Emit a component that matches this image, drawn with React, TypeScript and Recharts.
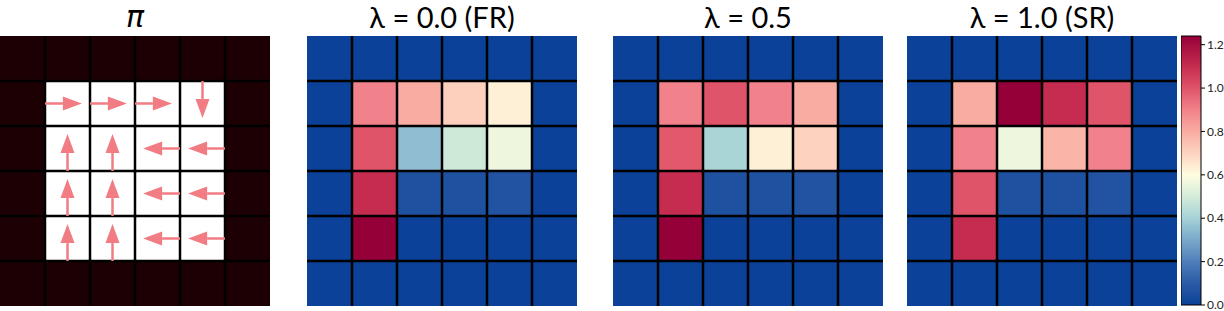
import { ScatterChart, Scatter, XAxis, YAxis, BarChart, Bar } from 'recharts';

// grid world: 6x6, row 0 is the top row
const GRID = 6;
const VMAX = 1.24;
const CB_TICKS = [0, 0.2, 0.4, 0.6, 0.8, 1.0, 1.2];

const TITLES = ['λ = 0.0 (FR)', 'λ = 0.5', 'λ = 1.0 (SR)'];

// 1 = wall, 0 = free cell
const WALLS = [
    [1, 1, 1, 1, 1, 1],
    [1, 0, 0, 0, 0, 1],
    [1, 0, 0, 0, 0, 1],
    [1, 0, 0, 0, 0, 1],
    [1, 0, 0, 0, 0, 1],
    [1, 1, 1, 1, 1, 1],
];

// policy arrows (R/L/U/D), '' = no arrow
const POLICY = [
    ['', '', '', '', '', ''],
    ['', 'R', 'R', 'R', 'D', ''],
    ['', 'U', 'U', 'L', 'L', ''],
    ['', 'U', 'U', 'L', 'L', ''],
    ['', 'U', 'U', 'L', 'L', ''],
    ['', '', '', '', '', ''],
];

const VALUES_FR = [
    [0, 0, 0, 0, 0, 0],
    [0, 0.9, 0.8, 0.71, 0.63, 0],
    [0, 1.0, 0.35, 0.49, 0.56, 0],
    [0, 1.1, 0.06, 0.06, 0.07, 0],
    [0, 1.24, 0, 0, 0, 0],
    [0, 0, 0, 0, 0, 0],
];

const VALUES_MID = [
    [0, 0, 0, 0, 0, 0],
    [0, 0.9, 1.0, 0.9, 0.8, 0],
    [0, 0.99, 0.41, 0.63, 0.7, 0],
    [0, 1.1, 0.06, 0.06, 0.07, 0],
    [0, 1.24, 0, 0, 0, 0],
    [0, 0, 0, 0, 0, 0],
];

const VALUES_SR = [
    [0, 0, 0, 0, 0, 0],
    [0, 0.8, 1.24, 1.1, 1.0, 0],
    [0, 0.9, 0.56, 0.78, 0.9, 0],
    [0, 1.0, 0.06, 0.06, 0.07, 0],
    [0, 1.1, 0, 0, 0, 0],
    [0, 0, 0, 0, 0, 0],
];

// colormap stops [value, color]
const CMAP: [number, string][] = [
    [0.0, '#0b4198'],
    [0.1, '#2a5ba6'],
    [0.2, '#4f7fba'],
    [0.3, '#7aa8cb'],
    [0.4, '#a5d2d6'],
    [0.5, '#d4ecd9'],
    [0.6, '#fffde0'],
    [0.7, '#fdd3c0'],
    [0.8, '#f9aca2'],
    [0.9, '#f1818a'],
    [1.0, '#df5468'],
    [1.1, '#c62c4f'],
    [1.24, '#960038'],
];

const PANEL = 270;
const CELL = PANEL / GRID;
const LINE_W = 2.5;
const FONT = "Lato, 'DejaVu Sans', sans-serif";
const WALL_COLOR = '#1c0003';
const ARROW_COLOR = '#f17c83';

const hex = (c: string) => [1, 3, 5].map(i => parseInt(c.slice(i, i + 2), 16));

function colorFor(v: number) {
    if (v <= CMAP[0][0]) return CMAP[0][1];
    for (let i = 1; i < CMAP.length; i++) {
        const [v1, c1] = CMAP[i];
        if (v <= v1) {
            const [v0, c0] = CMAP[i - 1];
            const t = (v - v0) / (v1 - v0);
            const a = hex(c0), b = hex(c1);
            const m = a.map((x, k) => Math.round(x + (b[k] - x) * t));
            return `rgb(${m[0]},${m[1]},${m[2]})`;
        }
    }
    return CMAP[CMAP.length - 1][1];
}

const toCells = (grid: number[][]) =>
    grid.flatMap((row, r) => row.map((v, c) => ({ x: c + 0.5, y: r + 0.5, v, r, c })));

const arrowCells = POLICY.flatMap((row, r) =>
    row.map((d, c) => ({ x: c + 0.5, y: r + 0.5, d })).filter(p => p.d !== '')
);

const DIRS: Record<string, [number, number]> = { R: [1, 0], L: [-1, 0], U: [0, -1], D: [0, 1] };

const HeatCell = (props: any) => {
    const { cx, cy, payload } = props;
    return <rect x={cx - CELL / 2} y={cy - CELL / 2} width={CELL} height={CELL} fill={colorFor(payload.v)} />;
};

const WallCell = (props: any) => {
    const { cx, cy, payload } = props;
    return <rect x={cx - CELL / 2} y={cy - CELL / 2} width={CELL} height={CELL} fill={payload.v ? WALL_COLOR : '#ffffff'} />;
};

// inner cell borders: each cell draws its left and top edge (not on the outer frame)
const CellEdges = (props: any) => {
    const { cx, cy, payload } = props;
    const x0 = cx - CELL / 2, y0 = cy - CELL / 2;
    const e = LINE_W / 2;
    return (
        <g>
            {payload.c > 0 && <line x1={x0} y1={y0 - e} x2={x0} y2={y0 + CELL + e} stroke="#000" strokeWidth={LINE_W} />}
            {payload.r > 0 && <line x1={x0 - e} y1={y0} x2={x0 + CELL + e} y2={y0} stroke="#000" strokeWidth={LINE_W} />}
        </g>
    );
};

const Arrow = (props: any) => {
    const { cx, cy, payload } = props;
    const [dx, dy] = DIRS[payload.d];
    const tx = cx - dx * CELL * 0.5, ty = cy - dy * CELL * 0.5;
    const px = cx + dx * CELL * 0.32, py = cy + dy * CELL * 0.32;
    const bx = px - dx * 19, by = py - dy * 19;
    const hw = 7;
    const pts = `${px},${py} ${bx - dy * hw},${by + dx * hw} ${bx + dy * hw},${by - dx * hw}`;
    return (
        <g>
            <line x1={tx} y1={ty} x2={bx} y2={by} stroke={ARROW_COLOR} strokeWidth={2.5} />
            <polygon points={pts} fill={ARROW_COLOR} />
        </g>
    );
};

function Panel({ left, title, italic, cells, shape, arrows }: any) {
    return (
        <div style={{ position: 'absolute', left, top: 0, width: PANEL }}>
            <div style={{ position: 'absolute', top: 1, width: PANEL, textAlign: 'center', fontSize: italic ? 30 : 29, fontFamily: italic ? "'DejaVu Sans', sans-serif" : FONT, fontStyle: italic ? 'italic' : 'normal', color: '#000', lineHeight: '32px' }}>
                {title}
            </div>
            <div style={{ position: 'absolute', top: 36 }}>
                <ScatterChart width={PANEL} height={PANEL} margin={{ top: 0, right: 0, bottom: 0, left: 0 }}>
                    <XAxis type="number" dataKey="x" domain={[0, GRID]} hide />
                    <YAxis type="number" dataKey="y" domain={[0, GRID]} reversed hide />
                    <Scatter data={cells} shape={shape} isAnimationActive={false} />
                    <Scatter data={cells} shape={CellEdges} isAnimationActive={false} />
                    {arrows && <Scatter data={arrows} shape={Arrow} isAnimationActive={false} />}
                </ScatterChart>
            </div>
        </div>
    );
}

export default function App() {
    const cbData = [{ name: 'cb', v: VMAX }];
    return (
        <div style={{ position: 'absolute', left: 0, top: 0, width: 1224, height: 311, background: '#fff', overflow: 'hidden' }}>
            <Panel left={0} title="π" italic cells={toCells(WALLS)} shape={WallCell} arrows={arrowCells} />
            <Panel left={307} title={TITLES[0]} cells={toCells(VALUES_FR)} shape={HeatCell} />
            <Panel left={613} title={TITLES[1]} cells={toCells(VALUES_MID)} shape={HeatCell} />
            <Panel left={907} title={TITLES[2]} cells={toCells(VALUES_SR)} shape={HeatCell} />

            {/* colorbar */}
            <div style={{ position: 'absolute', left: 1181, top: 30 }}>
                <BarChart width={43} height={PANEL - 1 + 12} data={cbData} barCategoryGap={0} margin={{ top: 6, right: 0, bottom: 6, left: 0 }}>
                    <defs>
                        <linearGradient id="cbGrad" x1="0" y1="1" x2="0" y2="0">
                            {CMAP.map(([v, c]) => <stop key={v} offset={v / VMAX} stopColor={c} />)}
                        </linearGradient>
                    </defs>
                    <XAxis dataKey="name" hide />
                    <YAxis
                        orientation="right"
                        type="number"
                        domain={[0, VMAX]}
                        ticks={CB_TICKS}
                        interval={0}
                        tickFormatter={(v: number) => v.toFixed(1)}
                        width={23}
                        axisLine={false}
                        tickSize={4}
                        tickLine={{ stroke: '#000' }}
                        tick={{ fontSize: 12, fontFamily: FONT, fill: '#222' }}
                    />
                    <Bar dataKey="v" fill="url(#cbGrad)" stroke="#000" strokeWidth={1} isAnimationActive={false} />
                </BarChart>
            </div>
        </div>
    );
}
